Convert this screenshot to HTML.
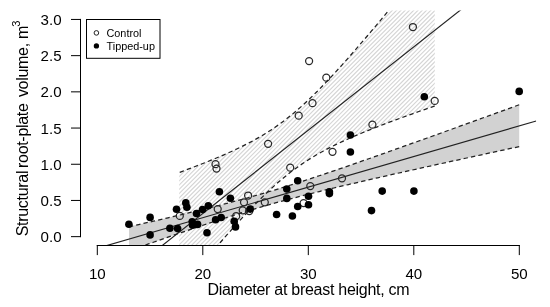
<!DOCTYPE html>
<html><head><meta charset="utf-8"><title>Structural root-plate volume vs diameter</title>
<style>
html,body{margin:0;padding:0;background:#fff;}
body{width:550px;height:307px;overflow:hidden;}
svg{display:block;}
text{font-family:"Liberation Sans", Arial, Helvetica, sans-serif;fill:#000;}
</style></head><body>
<svg width="550" height="307" viewBox="0 0 550 307">
<rect width="550" height="307" fill="#fff"/>
<defs>
<clipPath id="plot"><rect x="80.4" y="10.6" width="455.80000000000007" height="234.8"/></clipPath>
<clipPath id="cband"><path d="M179.20,172.51 L182.39,171.33 L185.59,170.14 L188.78,168.94 L191.98,167.74 L195.17,166.51 L198.37,165.28 L201.56,164.03 L204.76,162.77 L207.95,161.49 L211.15,160.19 L214.34,158.88 L217.54,157.54 L220.73,156.19 L223.93,154.81 L227.12,153.40 L230.32,151.97 L233.51,150.50 L236.71,149.00 L239.91,147.47 L243.10,145.90 L246.29,144.28 L249.49,142.62 L252.69,140.92 L255.88,139.15 L259.07,137.34 L262.27,135.46 L265.47,133.52 L268.66,131.51 L271.86,129.43 L275.05,127.28 L278.25,125.04 L281.44,122.73 L284.63,120.34 L287.83,117.86 L291.02,115.30 L294.22,112.66 L297.41,109.93 L300.61,107.13 L303.81,104.25 L307.00,101.29 L310.19,98.26 L313.39,95.16 L316.59,92.00 L319.78,88.78 L322.98,85.50 L326.17,82.17 L329.37,78.78 L332.56,75.36 L335.75,71.89 L338.95,68.38 L342.14,64.84 L345.34,61.26 L348.53,57.65 L351.73,54.02 L354.93,50.35 L358.12,46.67 L361.31,42.96 L364.51,39.23 L367.71,35.48 L370.90,31.72 L374.10,27.94 L377.29,24.14 L380.49,20.33 L383.68,16.51 L386.88,12.67 L390.07,8.83 L393.26,4.97 L396.46,1.10 L399.65,-2.77 L402.85,-6.65 L406.05,-10.55 L409.24,-14.44 L412.44,-18.35 L415.63,-22.26 L418.82,-26.18 L422.02,-30.11 L425.22,-34.03 L428.41,-37.97 L431.61,-41.91 L434.80,-45.85 L434.80,105.98 L431.61,107.08 L428.41,108.19 L425.22,109.30 L422.02,110.41 L418.82,111.53 L415.63,112.66 L412.44,113.79 L409.24,114.93 L406.05,116.08 L402.85,117.24 L399.65,118.40 L396.46,119.57 L393.26,120.75 L390.07,121.94 L386.88,123.14 L383.68,124.35 L380.49,125.57 L377.29,126.80 L374.10,128.05 L370.90,129.32 L367.71,130.60 L364.51,131.90 L361.31,133.21 L358.12,134.55 L354.93,135.91 L351.73,137.29 L348.53,138.70 L345.34,140.14 L342.14,141.61 L338.95,143.11 L335.75,144.65 L332.56,146.23 L329.37,147.84 L326.17,149.51 L322.98,151.22 L319.78,152.99 L316.59,154.81 L313.39,156.70 L310.19,158.64 L307.00,160.66 L303.81,162.75 L300.61,164.91 L297.41,167.15 L294.22,169.47 L291.02,171.87 L287.83,174.36 L284.63,176.93 L281.44,179.58 L278.25,182.31 L275.05,185.13 L271.86,188.02 L268.66,190.98 L265.47,194.02 L262.27,197.12 L259.07,200.29 L255.88,203.52 L252.69,206.81 L249.49,210.14 L246.29,213.53 L243.10,216.96 L239.91,220.44 L236.71,223.95 L233.51,227.49 L230.32,231.08 L227.12,234.69 L223.93,238.33 L220.73,241.99 L217.54,245.68 L214.34,249.39 L211.15,253.12 L207.95,256.87 L204.76,260.64 L201.56,264.42 L198.37,268.22 L195.17,272.03 L191.98,275.85 L188.78,279.69 L185.59,283.54 L182.39,287.39 L179.20,291.26Z"/></clipPath>
</defs>
<g clip-path="url(#plot)">
<path d="M129.00,226.72 L133.88,225.62 L138.75,224.52 L143.63,223.41 L148.51,222.30 L153.39,221.19 L158.27,220.07 L163.14,218.94 L168.02,217.81 L172.90,216.67 L177.78,215.52 L182.65,214.37 L187.53,213.20 L192.41,212.03 L197.29,210.85 L202.16,209.66 L207.04,208.45 L211.92,207.23 L216.80,206.00 L221.67,204.75 L226.55,203.49 L231.43,202.21 L236.31,200.91 L241.18,199.59 L246.06,198.25 L250.94,196.89 L255.81,195.51 L260.69,194.11 L265.57,192.69 L270.45,191.24 L275.33,189.78 L280.20,188.29 L285.08,186.78 L289.96,185.25 L294.84,183.71 L299.71,182.15 L304.59,180.57 L309.47,178.98 L314.35,177.37 L319.22,175.75 L324.10,174.11 L328.98,172.47 L333.86,170.81 L338.73,169.15 L343.61,167.48 L348.49,165.80 L353.37,164.11 L358.24,162.42 L363.12,160.71 L368.00,159.01 L372.88,157.30 L377.75,155.58 L382.63,153.86 L387.51,152.14 L392.39,150.41 L397.26,148.68 L402.14,146.94 L407.02,145.20 L411.90,143.46 L416.77,141.72 L421.65,139.98 L426.53,138.23 L431.41,136.48 L436.28,134.73 L441.16,132.97 L446.04,131.22 L450.92,129.46 L455.79,127.70 L460.67,125.94 L465.55,124.18 L470.43,122.42 L475.30,120.66 L480.18,118.90 L485.06,117.13 L489.94,115.36 L494.81,113.60 L499.69,111.83 L504.57,110.06 L509.45,108.29 L514.32,106.52 L519.20,104.75 L519.20,146.59 L514.32,147.64 L509.45,148.70 L504.57,149.76 L499.69,150.82 L494.81,151.88 L489.94,152.94 L485.06,154.00 L480.18,155.07 L475.30,156.13 L470.43,157.20 L465.55,158.26 L460.67,159.33 L455.79,160.40 L450.92,161.47 L446.04,162.54 L441.16,163.61 L436.28,164.69 L431.41,165.76 L426.53,166.84 L421.65,167.92 L416.77,169.01 L411.90,170.09 L407.02,171.18 L402.14,172.27 L397.26,173.36 L392.39,174.46 L387.51,175.56 L382.63,176.66 L377.75,177.77 L372.88,178.88 L368.00,180.00 L363.12,181.12 L358.24,182.25 L353.37,183.38 L348.49,184.52 L343.61,185.67 L338.73,186.82 L333.86,187.99 L328.98,189.16 L324.10,190.34 L319.22,191.54 L314.35,192.75 L309.47,193.97 L304.59,195.20 L299.71,196.45 L294.84,197.72 L289.96,199.00 L285.08,200.30 L280.20,201.62 L275.33,202.96 L270.45,204.32 L265.57,205.71 L260.69,207.11 L255.81,208.54 L250.94,209.98 L246.06,211.45 L241.18,212.94 L236.31,214.45 L231.43,215.98 L226.55,217.53 L221.67,219.09 L216.80,220.67 L211.92,222.27 L207.04,223.88 L202.16,225.50 L197.29,227.14 L192.41,228.78 L187.53,230.44 L182.65,232.10 L177.78,233.78 L172.90,235.46 L168.02,237.15 L163.14,238.84 L158.27,240.54 L153.39,242.25 L148.51,243.96 L143.63,245.68 L138.75,247.40 L133.88,249.12 L129.00,250.85Z" fill="#d2d2d2"/>
<g clip-path="url(#cband)"><path d="M-100.90,247.40 L137.90,8.60 M-96.63,247.40 L142.17,8.60 M-92.36,247.40 L146.44,8.60 M-88.09,247.40 L150.71,8.60 M-83.82,247.40 L154.98,8.60 M-79.55,247.40 L159.25,8.60 M-75.28,247.40 L163.52,8.60 M-71.01,247.40 L167.79,8.60 M-66.74,247.40 L172.06,8.60 M-62.47,247.40 L176.33,8.60 M-58.20,247.40 L180.60,8.60 M-53.93,247.40 L184.87,8.60 M-49.66,247.40 L189.14,8.60 M-45.39,247.40 L193.41,8.60 M-41.12,247.40 L197.68,8.60 M-36.85,247.40 L201.95,8.60 M-32.58,247.40 L206.22,8.60 M-28.31,247.40 L210.49,8.60 M-24.04,247.40 L214.76,8.60 M-19.77,247.40 L219.03,8.60 M-15.50,247.40 L223.30,8.60 M-11.23,247.40 L227.57,8.60 M-6.96,247.40 L231.84,8.60 M-2.69,247.40 L236.11,8.60 M1.58,247.40 L240.38,8.60 M5.85,247.40 L244.65,8.60 M10.12,247.40 L248.92,8.60 M14.39,247.40 L253.19,8.60 M18.66,247.40 L257.46,8.60 M22.93,247.40 L261.73,8.60 M27.20,247.40 L266.00,8.60 M31.47,247.40 L270.27,8.60 M35.74,247.40 L274.54,8.60 M40.01,247.40 L278.81,8.60 M44.28,247.40 L283.08,8.60 M48.55,247.40 L287.35,8.60 M52.82,247.40 L291.62,8.60 M57.09,247.40 L295.89,8.60 M61.36,247.40 L300.16,8.60 M65.63,247.40 L304.43,8.60 M69.90,247.40 L308.70,8.60 M74.17,247.40 L312.97,8.60 M78.44,247.40 L317.24,8.60 M82.71,247.40 L321.51,8.60 M86.98,247.40 L325.78,8.60 M91.25,247.40 L330.05,8.60 M95.52,247.40 L334.32,8.60 M99.79,247.40 L338.59,8.60 M104.06,247.40 L342.86,8.60 M108.33,247.40 L347.13,8.60 M112.60,247.40 L351.40,8.60 M116.87,247.40 L355.67,8.60 M121.14,247.40 L359.94,8.60 M125.41,247.40 L364.21,8.60 M129.68,247.40 L368.48,8.60 M133.95,247.40 L372.75,8.60 M138.22,247.40 L377.02,8.60 M142.49,247.40 L381.29,8.60 M146.76,247.40 L385.56,8.60 M151.03,247.40 L389.83,8.60 M155.30,247.40 L394.10,8.60 M159.57,247.40 L398.37,8.60 M163.84,247.40 L402.64,8.60 M168.11,247.40 L406.91,8.60 M172.38,247.40 L411.18,8.60 M176.65,247.40 L415.45,8.60 M180.92,247.40 L419.72,8.60 M185.19,247.40 L423.99,8.60 M189.46,247.40 L428.26,8.60 M193.73,247.40 L432.53,8.60 M198.00,247.40 L436.80,8.60 M202.27,247.40 L441.07,8.60 M206.54,247.40 L445.34,8.60 M210.81,247.40 L449.61,8.60 M215.08,247.40 L453.88,8.60 M219.35,247.40 L458.15,8.60 M223.62,247.40 L462.42,8.60 M227.89,247.40 L466.69,8.60 M232.16,247.40 L470.96,8.60 M236.43,247.40 L475.23,8.60 M240.70,247.40 L479.50,8.60 M244.97,247.40 L483.77,8.60 M249.24,247.40 L488.04,8.60 M253.51,247.40 L492.31,8.60 M257.78,247.40 L496.58,8.60 M262.05,247.40 L500.85,8.60 M266.32,247.40 L505.12,8.60 M270.59,247.40 L509.39,8.60 M274.86,247.40 L513.66,8.60 M279.13,247.40 L517.93,8.60 M283.40,247.40 L522.20,8.60 M287.67,247.40 L526.47,8.60 M291.94,247.40 L530.74,8.60 M296.21,247.40 L535.01,8.60 M300.48,247.40 L539.28,8.60 M304.75,247.40 L543.55,8.60 M309.02,247.40 L547.82,8.60 M313.29,247.40 L552.09,8.60 M317.56,247.40 L556.36,8.60 M321.83,247.40 L560.63,8.60 M326.10,247.40 L564.90,8.60 M330.37,247.40 L569.17,8.60 M334.64,247.40 L573.44,8.60 M338.91,247.40 L577.71,8.60 M343.18,247.40 L581.98,8.60 M347.45,247.40 L586.25,8.60 M351.72,247.40 L590.52,8.60 M355.99,247.40 L594.79,8.60 M360.26,247.40 L599.06,8.60 M364.53,247.40 L603.33,8.60 M368.80,247.40 L607.60,8.60 M373.07,247.40 L611.87,8.60 M377.34,247.40 L616.14,8.60 M381.61,247.40 L620.41,8.60 M385.88,247.40 L624.68,8.60 M390.15,247.40 L628.95,8.60 M394.42,247.40 L633.22,8.60 M398.69,247.40 L637.49,8.60 M402.96,247.40 L641.76,8.60 M407.23,247.40 L646.03,8.60 M411.50,247.40 L650.30,8.60 M415.77,247.40 L654.57,8.60 M420.04,247.40 L658.84,8.60 M424.31,247.40 L663.11,8.60 M428.58,247.40 L667.38,8.60 M432.85,247.40 L671.65,8.60 M437.12,247.40 L675.92,8.60 M441.39,247.40 L680.19,8.60 M445.66,247.40 L684.46,8.60 M449.93,247.40 L688.73,8.60 M454.20,247.40 L693.00,8.60 M458.47,247.40 L697.27,8.60 M462.74,247.40 L701.54,8.60 M467.01,247.40 L705.81,8.60 M471.28,247.40 L710.08,8.60 M475.55,247.40 L714.35,8.60 M479.82,247.40 L718.62,8.60 M484.09,247.40 L722.89,8.60 M488.36,247.40 L727.16,8.60 M492.63,247.40 L731.43,8.60 M496.90,247.40 L735.70,8.60 M501.17,247.40 L739.97,8.60 M505.44,247.40 L744.24,8.60 M509.71,247.40 L748.51,8.60 M513.98,247.40 L752.78,8.60 M518.25,247.40 L757.05,8.60 M522.52,247.40 L761.32,8.60 M526.79,247.40 L765.59,8.60 M531.06,247.40 L769.86,8.60 M535.33,247.40 L774.13,8.60 M539.60,247.40 L778.40,8.60 M543.87,247.40 L782.67,8.60 M548.14,247.40 L786.94,8.60 M552.41,247.40 L791.21,8.60 M556.68,247.40 L795.48,8.60 M560.95,247.40 L799.75,8.60 M565.22,247.40 L804.02,8.60 M569.49,247.40 L808.29,8.60 M573.76,247.40 L812.56,8.60 M578.03,247.40 L816.83,8.60 M582.30,247.40 L821.10,8.60 M586.57,247.40 L825.37,8.60 M590.84,247.40 L829.64,8.60 M595.11,247.40 L833.91,8.60 M599.38,247.40 L838.18,8.60 M603.65,247.40 L842.45,8.60 M607.92,247.40 L846.72,8.60 M612.19,247.40 L850.99,8.60 M616.46,247.40 L855.26,8.60 M620.73,247.40 L859.53,8.60 M625.00,247.40 L863.80,8.60 M629.27,247.40 L868.07,8.60 M633.54,247.40 L872.34,8.60 M637.81,247.40 L876.61,8.60 M642.08,247.40 L880.88,8.60 M646.35,247.40 L885.15,8.60 M650.62,247.40 L889.42,8.60 M654.89,247.40 L893.69,8.60 M659.16,247.40 L897.96,8.60 M663.43,247.40 L902.23,8.60 M667.70,247.40 L906.50,8.60 M671.97,247.40 L910.77,8.60 M676.24,247.40 L915.04,8.60 M680.51,247.40 L919.31,8.60 M684.78,247.40 L923.58,8.60 M689.05,247.40 L927.85,8.60 M693.32,247.40 L932.12,8.60 M697.59,247.40 L936.39,8.60 M701.86,247.40 L940.66,8.60 M706.13,247.40 L944.93,8.60 M710.40,247.40 L949.20,8.60 M714.67,247.40 L953.47,8.60 M718.94,247.40 L957.74,8.60 M723.21,247.40 L962.01,8.60 M727.48,247.40 L966.28,8.60 M731.75,247.40 L970.55,8.60 M736.02,247.40 L974.82,8.60 M740.29,247.40 L979.09,8.60 M744.56,247.40 L983.36,8.60 M748.83,247.40 L987.63,8.60 M753.10,247.40 L991.90,8.60 M757.37,247.40 L996.17,8.60 M761.64,247.40 L1000.44,8.60 M765.91,247.40 L1004.71,8.60 M770.18,247.40 L1008.98,8.60 M774.45,247.40 L1013.25,8.60 M778.72,247.40 L1017.52,8.60 M782.99,247.40 L1021.79,8.60 M787.26,247.40 L1026.06,8.60 M791.53,247.40 L1030.33,8.60 M795.80,247.40 L1034.60,8.60 M800.07,247.40 L1038.87,8.60 M804.34,247.40 L1043.14,8.60 M808.61,247.40 L1047.41,8.60 M812.88,247.40 L1051.68,8.60 M817.15,247.40 L1055.95,8.60 M821.42,247.40 L1060.22,8.60 M825.69,247.40 L1064.49,8.60 M829.96,247.40 L1068.76,8.60" stroke="#d5d5d5" stroke-width="1.15" fill="none"/></g>
<g fill="none" stroke="#222" stroke-width="1.25" stroke-dasharray="4.4 3.1">
<path d="M519.20,104.75 L514.32,106.52 L509.45,108.29 L504.57,110.06 L499.69,111.83 L494.81,113.60 L489.94,115.36 L485.06,117.13 L480.18,118.90 L475.30,120.66 L470.43,122.42 L465.55,124.18 L460.67,125.94 L455.79,127.70 L450.92,129.46 L446.04,131.22 L441.16,132.97 L436.28,134.73 L431.41,136.48 L426.53,138.23 L421.65,139.98 L416.77,141.72 L411.90,143.46 L407.02,145.20 L402.14,146.94 L397.26,148.68 L392.39,150.41 L387.51,152.14 L382.63,153.86 L377.75,155.58 L372.88,157.30 L368.00,159.01 L363.12,160.71 L358.24,162.42 L353.37,164.11 L348.49,165.80 L343.61,167.48 L338.73,169.15 L333.86,170.81 L328.98,172.47 L324.10,174.11 L319.22,175.75 L314.35,177.37 L309.47,178.98 L304.59,180.57 L299.71,182.15 L294.84,183.71 L289.96,185.25 L285.08,186.78 L280.20,188.29 L275.33,189.78 L270.45,191.24 L265.57,192.69 L260.69,194.11 L255.81,195.51 L250.94,196.89 L246.06,198.25 L241.18,199.59 L236.31,200.91 L231.43,202.21 L226.55,203.49 L221.67,204.75 L216.80,206.00 L211.92,207.23 L207.04,208.45 L202.16,209.66 L197.29,210.85 L192.41,212.03 L187.53,213.20 L182.65,214.37 L177.78,215.52 L172.90,216.67 L168.02,217.81 L163.14,218.94 L158.27,220.07 L153.39,221.19 L148.51,222.30 L143.63,223.41 L138.75,224.52 L133.88,225.62 L129.00,226.72"/><path d="M519.20,146.59 L514.32,147.64 L509.45,148.70 L504.57,149.76 L499.69,150.82 L494.81,151.88 L489.94,152.94 L485.06,154.00 L480.18,155.07 L475.30,156.13 L470.43,157.20 L465.55,158.26 L460.67,159.33 L455.79,160.40 L450.92,161.47 L446.04,162.54 L441.16,163.61 L436.28,164.69 L431.41,165.76 L426.53,166.84 L421.65,167.92 L416.77,169.01 L411.90,170.09 L407.02,171.18 L402.14,172.27 L397.26,173.36 L392.39,174.46 L387.51,175.56 L382.63,176.66 L377.75,177.77 L372.88,178.88 L368.00,180.00 L363.12,181.12 L358.24,182.25 L353.37,183.38 L348.49,184.52 L343.61,185.67 L338.73,186.82 L333.86,187.99 L328.98,189.16 L324.10,190.34 L319.22,191.54 L314.35,192.75 L309.47,193.97 L304.59,195.20 L299.71,196.45 L294.84,197.72 L289.96,199.00 L285.08,200.30 L280.20,201.62 L275.33,202.96 L270.45,204.32 L265.57,205.71 L260.69,207.11 L255.81,208.54 L250.94,209.98 L246.06,211.45 L241.18,212.94 L236.31,214.45 L231.43,215.98 L226.55,217.53 L221.67,219.09 L216.80,220.67 L211.92,222.27 L207.04,223.88 L202.16,225.50 L197.29,227.14 L192.41,228.78 L187.53,230.44 L182.65,232.10 L177.78,233.78 L172.90,235.46 L168.02,237.15 L163.14,238.84 L158.27,240.54 L153.39,242.25 L148.51,243.96 L143.63,245.68 L138.75,247.40 L133.88,249.12 L129.00,250.85"/>
<path d="M434.80,-45.85 L431.61,-41.91 L428.41,-37.97 L425.22,-34.03 L422.02,-30.11 L418.82,-26.18 L415.63,-22.26 L412.44,-18.35 L409.24,-14.44 L406.05,-10.55 L402.85,-6.65 L399.65,-2.77 L396.46,1.10 L393.26,4.97 L390.07,8.83 L386.88,12.67 L383.68,16.51 L380.49,20.33 L377.29,24.14 L374.10,27.94 L370.90,31.72 L367.71,35.48 L364.51,39.23 L361.31,42.96 L358.12,46.67 L354.93,50.35 L351.73,54.02 L348.53,57.65 L345.34,61.26 L342.14,64.84 L338.95,68.38 L335.75,71.89 L332.56,75.36 L329.37,78.78 L326.17,82.17 L322.98,85.50 L319.78,88.78 L316.59,92.00 L313.39,95.16 L310.19,98.26 L307.00,101.29 L303.81,104.25 L300.61,107.13 L297.41,109.93 L294.22,112.66 L291.02,115.30 L287.83,117.86 L284.63,120.34 L281.44,122.73 L278.25,125.04 L275.05,127.28 L271.86,129.43 L268.66,131.51 L265.47,133.52 L262.27,135.46 L259.07,137.34 L255.88,139.15 L252.69,140.92 L249.49,142.62 L246.29,144.28 L243.10,145.90 L239.91,147.47 L236.71,149.00 L233.51,150.50 L230.32,151.97 L227.12,153.40 L223.93,154.81 L220.73,156.19 L217.54,157.54 L214.34,158.88 L211.15,160.19 L207.95,161.49 L204.76,162.77 L201.56,164.03 L198.37,165.28 L195.17,166.51 L191.98,167.74 L188.78,168.94 L185.59,170.14 L182.39,171.33 L179.20,172.51"/><path d="M434.80,105.98 L431.61,107.08 L428.41,108.19 L425.22,109.30 L422.02,110.41 L418.82,111.53 L415.63,112.66 L412.44,113.79 L409.24,114.93 L406.05,116.08 L402.85,117.24 L399.65,118.40 L396.46,119.57 L393.26,120.75 L390.07,121.94 L386.88,123.14 L383.68,124.35 L380.49,125.57 L377.29,126.80 L374.10,128.05 L370.90,129.32 L367.71,130.60 L364.51,131.90 L361.31,133.21 L358.12,134.55 L354.93,135.91 L351.73,137.29 L348.53,138.70 L345.34,140.14 L342.14,141.61 L338.95,143.11 L335.75,144.65 L332.56,146.23 L329.37,147.84 L326.17,149.51 L322.98,151.22 L319.78,152.99 L316.59,154.81 L313.39,156.70 L310.19,158.64 L307.00,160.66 L303.81,162.75 L300.61,164.91 L297.41,167.15 L294.22,169.47 L291.02,171.87 L287.83,174.36 L284.63,176.93 L281.44,179.58 L278.25,182.31 L275.05,185.13 L271.86,188.02 L268.66,190.98 L265.47,194.02 L262.27,197.12 L259.07,200.29 L255.88,203.52 L252.69,206.81 L249.49,210.14 L246.29,213.53 L243.10,216.96 L239.91,220.44 L236.71,223.95 L233.51,227.49 L230.32,231.08 L227.12,234.69 L223.93,238.33 L220.73,241.99 L217.54,245.68 L214.34,249.39 L211.15,253.12 L207.95,256.87 L204.76,260.64 L201.56,264.42 L198.37,268.22 L195.17,272.03 L191.98,275.85 L188.78,279.69 L185.59,283.54 L182.39,287.39 L179.20,291.26"/>
</g>
<g stroke="#222" stroke-width="1.15">
<line x1="60.400000000000006" y1="258.98" x2="536.2" y2="120.99"/>
<line x1="150" y1="255.19" x2="470" y2="2.52"/>
</g>
</g>
<g fill="none" stroke="#282828" stroke-width="1.25">
<circle cx="179.8" cy="215.9" r="3.5"/>
<circle cx="215.5" cy="164.2" r="3.5"/>
<circle cx="216.5" cy="168.6" r="3.5"/>
<circle cx="217.7" cy="209.1" r="3.5"/>
<circle cx="236.2" cy="216" r="3.5"/>
<circle cx="242.7" cy="210.3" r="3.5"/>
<circle cx="244" cy="202.3" r="3.5"/>
<circle cx="248.1" cy="195.5" r="3.5"/>
<circle cx="249.3" cy="211" r="3.5"/>
<circle cx="264.8" cy="202.3" r="3.5"/>
<circle cx="268.1" cy="143.8" r="3.5"/>
<circle cx="290.2" cy="167.7" r="3.5"/>
<circle cx="298.7" cy="115.7" r="3.5"/>
<circle cx="303.6" cy="203.1" r="3.5"/>
<circle cx="309.1" cy="61.1" r="3.5"/>
<circle cx="310.3" cy="186.1" r="3.5"/>
<circle cx="312.5" cy="103.2" r="3.5"/>
<circle cx="326.3" cy="77.7" r="3.5"/>
<circle cx="332.5" cy="151.8" r="3.5"/>
<circle cx="342" cy="178.3" r="3.5"/>
<circle cx="372.4" cy="124.7" r="3.5"/>
<circle cx="412.9" cy="27.0" r="3.5"/>
<circle cx="434.7" cy="100.9" r="3.5"/>
</g><g fill="#000">
<circle cx="128.9" cy="224.2" r="3.8"/>
<circle cx="150.1" cy="217.4" r="3.8"/>
<circle cx="150.1" cy="234.9" r="3.8"/>
<circle cx="169.9" cy="228.3" r="3.8"/>
<circle cx="177.6" cy="228.6" r="3.8"/>
<circle cx="176.5" cy="209.3" r="3.8"/>
<circle cx="185.8" cy="202.9" r="3.8"/>
<circle cx="186.9" cy="207.2" r="3.8"/>
<circle cx="192.2" cy="221.7" r="3.8"/>
<circle cx="192.6" cy="225.2" r="3.8"/>
<circle cx="197.6" cy="224.4" r="3.8"/>
<circle cx="196.5" cy="213.5" r="3.8"/>
<circle cx="202.6" cy="209.5" r="3.8"/>
<circle cx="208.3" cy="205.7" r="3.8"/>
<circle cx="207" cy="232.8" r="3.8"/>
<circle cx="215.6" cy="219.8" r="3.8"/>
<circle cx="221.2" cy="217.5" r="3.8"/>
<circle cx="219.4" cy="191.8" r="3.8"/>
<circle cx="230.4" cy="198.3" r="3.8"/>
<circle cx="234.2" cy="221.3" r="3.8"/>
<circle cx="235.5" cy="226.9" r="3.8"/>
<circle cx="250.2" cy="209.1" r="3.8"/>
<circle cx="276.6" cy="214.5" r="3.8"/>
<circle cx="286.8" cy="189" r="3.8"/>
<circle cx="286.8" cy="198.4" r="3.8"/>
<circle cx="292.4" cy="216" r="3.8"/>
<circle cx="297.7" cy="180.7" r="3.8"/>
<circle cx="297.7" cy="206.5" r="3.8"/>
<circle cx="308.5" cy="196.3" r="3.8"/>
<circle cx="308.5" cy="204.7" r="3.8"/>
<circle cx="329.4" cy="191.8" r="3.8"/>
<circle cx="329.4" cy="193.6" r="3.8"/>
<circle cx="350.4" cy="135" r="3.8"/>
<circle cx="350.4" cy="152" r="3.8"/>
<circle cx="371.5" cy="210.6" r="3.8"/>
<circle cx="382.2" cy="191.1" r="3.8"/>
<circle cx="413.9" cy="191.1" r="3.8"/>
<circle cx="424.3" cy="96.8" r="3.8"/>
<circle cx="519.2" cy="91.4" r="3.8"/>
</g>
<g stroke="#000" stroke-width="1" fill="none" stroke-linecap="square">
<path d="M97.3,245.5 H519.3"/>
<path d="M97.3,245.5 V254.6"/>
<path d="M202.8,245.5 V254.6"/>
<path d="M308.3,245.5 V254.6"/>
<path d="M413.8,245.5 V254.6"/>
<path d="M519.3,245.5 V254.6"/>
<path d="M80.5,19.45 V236.65"/>
<path d="M80.5,236.65 H71.5"/>
<path d="M80.5,200.45 H71.5"/>
<path d="M80.5,164.25 H71.5"/>
<path d="M80.5,128.05 H71.5"/>
<path d="M80.5,91.85 H71.5"/>
<path d="M80.5,55.65 H71.5"/>
<path d="M80.5,19.45 H71.5"/>
</g>
<g font-size="15.1" text-anchor="middle">
<text x="97.3" y="278.6">10</text>
<text x="202.8" y="278.6">20</text>
<text x="308.3" y="278.6">30</text>
<text x="413.8" y="278.6">40</text>
<text x="519.3" y="278.6">50</text>
</g><g font-size="15.1" text-anchor="end">
<text x="61.6" y="242.20">0.0</text>
<text x="61.6" y="206.00">0.5</text>
<text x="61.6" y="169.80">1.0</text>
<text x="61.6" y="133.60">1.5</text>
<text x="61.6" y="97.40">2.0</text>
<text x="61.6" y="61.20">2.5</text>
<text x="61.6" y="25.00">3.0</text>
</g>
<text x="308.4" y="294.6" font-size="16" letter-spacing="-0.27" text-anchor="middle">Diameter at breast height, cm</text>
<g font-size="16" letter-spacing="-0.3">
<text transform="translate(27.8,236.3) rotate(-90)">Structural</text>
<text transform="translate(27.8,168.0) rotate(-90)">root-plate</text>
<text transform="translate(27.8,97.1) rotate(-90)">volume, m<tspan font-size="11.2" dx="-0.8" dy="-7.6">3</tspan></text>
</g>
<rect x="86.5" y="19.5" width="73.5" height="38.8" fill="#fff" stroke="#000" stroke-width="1"/>
<circle cx="96.4" cy="32.9" r="2.3" fill="none" stroke="#222" stroke-width="1"/>
<circle cx="96.4" cy="45.9" r="2.65" fill="#000"/>
<text x="106.5" y="36.8" font-size="10.85">Control</text>
<text x="106.5" y="49.7" font-size="10.85">Tipped-up</text>
</svg></body></html>
